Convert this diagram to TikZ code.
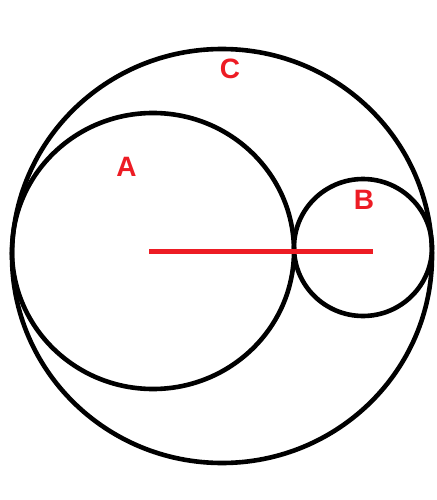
\documentclass[tikz,border=0pt]{standalone}
\usepackage{fontspec}
\setmainfont{Liberation Sans}
\usepackage{tikz}
\definecolor{paintred}{RGB}{237,28,36}

\begin{document}
\begin{tikzpicture}[x=1pt,y=-1pt]
    \useasboundingbox (0,0) rectangle (436,500);
    \tikzset{lbl/.style={text=paintred, inner sep=0pt, font=\bfseries\fontsize{28}{28}\selectfont}}
    \draw[line width=4.6pt] (222,256) circle [x radius=210pt, y radius=207pt];
    \draw[line width=4.6pt] (153,251) circle [x radius=141pt, y radius=138pt];
    \draw[line width=4.6pt] (363,247.5) circle [x radius=69pt, y radius=68.5pt];
    \coordinate (cA) at (149,251.5);
    \coordinate (eB) at (373,251.5);
    \draw[paintred, line width=5.5pt] (cA) -- (eB);
    \node[lbl] (labC) at (230,69) {C};
    \node[lbl] (labA) at (126.5,167) {A};
    \node[lbl] (labB) at (364,200) {B};
\end{tikzpicture}
\end{document}
